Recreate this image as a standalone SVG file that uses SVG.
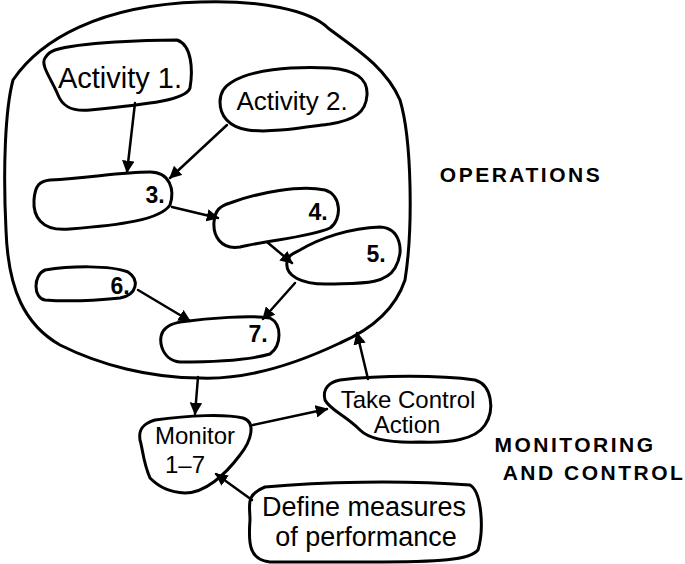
<svg xmlns="http://www.w3.org/2000/svg" width="685" height="564" viewBox="0 0 685 564">
<style>
.shape{fill:#fff;stroke:#000;stroke-width:3;stroke-linejoin:round}
.outer{fill:none;stroke:#000;stroke-width:3}
.conn{fill:none;stroke:#000;stroke-width:2.5;stroke-linecap:round}
.t{font-family:"Liberation Sans","DejaVu Sans",sans-serif;fill:#000}
.big{font-size:29px}
.mid{font-size:24px}
.num{font-size:23px;font-weight:bold}
.lab{font-size:21px;letter-spacing:2.5px;font-weight:bold}
</style>
<defs>
<marker id="ah" viewBox="0 0 10 10" refX="9" refY="5" markerWidth="5" markerHeight="5" orient="auto" markerUnits="strokeWidth">
<path d="M0,0 L10,5 L0,10 Z" fill="#000"/>
</marker>
</defs>
<g id="operations">
<path class="outer" d="M13,80 C40,40 100,5 200,2 C260,0 310,10 328,28 C350,45 385,65 400,100 C412,140 413,230 405,280 C395,310 370,330 340,343 C300,362 250,380 200,378 C150,378 100,365 60,345 C25,325 8,290 6,230 C3,170 5,110 13,80 Z"/>
<text class="t lab" x="521" y="182" text-anchor="middle">OPERATIONS</text>
</g>
<g id="activity1">
<path class="shape" d="M55,50 C80,42 150,40 177,40 C192,45 193,70 190,88 C186,100 150,104 90,110 C70,112 62,105 58,95 C52,80 40,65 45,58 C48,53 52,51 55,50 Z"/>
<text class="t big" x="120" y="88" text-anchor="middle">Activity 1.</text>
</g>
<g id="activity2">
<path class="shape" d="M232,82 C250,70 290,66 330,68 C355,70 368,78 367,95 C366,112 355,120 330,124 C300,128 270,133 248,130 C228,127 220,115 220,102 C220,92 225,86 232,82 Z"/>
<text class="t" x="292" y="110" text-anchor="middle" font-size="26">Activity 2.</text>
</g>
<g id="n3">
<path class="shape" d="M50,180 C90,178 120,172 150,172 C170,172 175,190 170,205 C160,220 120,225 70,229 C40,232 33,215 34,200 C35,185 40,181 50,180 Z"/>
<text class="t num" x="155" y="203" text-anchor="middle">3.</text>
</g>
<g id="n4">
<path class="shape" d="M230,203 C260,192 300,185 325,190 C342,195 342,220 330,228 C310,237 270,240 240,247 C220,250 213,235 214,222 C215,210 220,206 230,203 Z"/>
<text class="t num" x="318" y="220" text-anchor="middle">4.</text>
</g>
<g id="n5">
<path class="shape" d="M300,250 C320,238 350,228 380,227 C400,228 405,250 395,268 C385,285 360,283 330,284 C300,285 285,275 287,262 C288,255 294,253 300,250 Z"/>
<text class="t num" x="376" y="262" text-anchor="middle">5.</text>
</g>
<g id="n6">
<path class="shape" d="M45,270 C70,266 110,265 128,272 C140,280 137,295 120,298 C100,300 70,302 45,300 C33,298 33,275 45,270 Z"/>
<text class="t num" x="120" y="294" text-anchor="middle" font-size="19">6.</text>
</g>
<g id="n7">
<path class="shape" d="M180,322 C210,318 250,315 270,318 C282,324 282,345 270,354 C250,360 210,362 180,362 C160,360 156,335 166,328 C170,324 176,323 180,322 Z"/>
<text class="t num" x="258" y="342" text-anchor="middle">7.</text>
</g>
<g id="monitor">
<path class="shape" d="M155,420 C190,415 225,414 243,418 C256,422 252,440 240,455 C225,475 205,493 185,493 C170,492 160,488 150,478 C143,462 143,450 140,440 C138,428 145,423 155,420 Z"/>
<text class="t mid" x="195" y="444" text-anchor="middle">Monitor</text>
<text class="t mid" x="185" y="473" text-anchor="middle">1–7</text>
</g>
<g id="takecontrol">
<path class="shape" d="M340,380 C380,375 440,375 475,380 C492,385 495,410 485,425 C475,440 450,443 420,442 C390,443 370,440 360,430 C345,415 330,410 325,400 C322,388 330,382 340,380 Z"/>
<text class="t mid" x="408" y="408" text-anchor="middle">Take Control</text>
<text class="t mid" x="407" y="433" text-anchor="middle">Action</text>
</g>
<g id="define">
<path class="shape" d="M265,487 C320,482 400,480 470,485 C482,492 484,530 478,550 C470,560 440,562 370,562 L270,562 C250,560 248,545 250,520 C250,505 245,495 265,487 Z"/>
<text class="t" x="364" y="516" text-anchor="middle" font-size="27">Define measures</text>
<text class="t" x="366" y="546" text-anchor="middle" font-size="27">of performance</text>
</g>
<g id="mclabel">
<text class="t lab" x="575" y="452" text-anchor="middle">MONITORING</text>
<text class="t lab" x="594" y="480" text-anchor="middle">AND CONTROL</text>
</g>
<g id="connectors">
<path class="conn" marker-end="url(#ah)" d="M135,103 L127,172"/>
<path class="conn" marker-end="url(#ah)" d="M227,125 L170,178"/>
<path class="conn" marker-end="url(#ah)" d="M172,207 L218,218"/>
<path class="conn" marker-end="url(#ah)" d="M267,242 L292,263"/>
<path class="conn" marker-end="url(#ah)" d="M138,290 L190,321"/>
<path class="conn" marker-end="url(#ah)" d="M295,283 L263,319"/>
<path class="conn" marker-end="url(#ah)" d="M368,379 L357,333"/>
<path class="conn" marker-end="url(#ah)" d="M198,377 L195,414"/>
<path class="conn" marker-end="url(#ah)" d="M253,425 L327,409"/>
<path class="conn" marker-end="url(#ah)" d="M252,500 L216,474"/>
</g>
</svg>
